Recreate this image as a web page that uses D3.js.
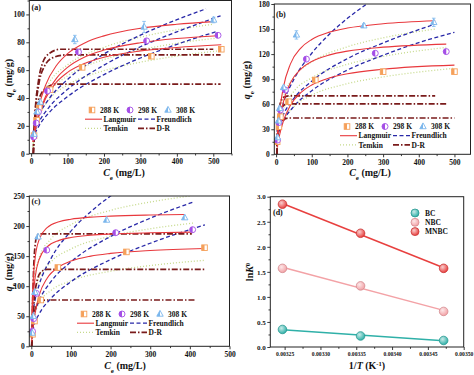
<!DOCTYPE html>
<html>
<head>
<meta charset="utf-8">
<script src="https://cdn.jsdelivr.net/npm/d3@7"></script>
<style>
  body { margin: 0; background: #fff; }
  svg { display: block; }
  text { font-family: "Liberation Serif", "Times New Roman", serif; font-weight: bold; fill: #111; }
</style>
</head>
<body>
<div id="chart"></div>
<script>
// ---- shared labels ----
const temps = ["288 K", "298 K", "308 K"];
const models = ["Langmuir", "Freundlich", "Temkin", "D-R"];
const isoXTicks = [0, 100, 200, 300, 400, 500];
const aYTicks = [0, 20, 40, 60, 80, 100];
const bYTicks = [0, 30, 60, 90, 120, 150, 180];
const cYTicks = [0, 50, 100, 150, 200, 250];
const dXTicks = [0.00325, 0.0033, 0.00335, 0.0034, 0.00345, 0.0035];
const dYTicks = [0, 0.5, 1.0, 1.5, 2.0, 2.5, 3.0];

// ---- panel (a): [Ce, qe] per temperature 288 / 298 / 308 K ----
const aPoints = [
  [[8, 13], [15, 24], [22, 33], [52, 46], [140, 62], [330, 70], [522, 75]],
  [[7, 12], [14, 22], [20, 30], [45, 45], [130, 73], [317, 81], [513, 85]],
  [[8, 14], [16, 30], [25, 37], [120, 82], [310, 91], [501, 96]]
];
// error bar half-heights for the 308 K points
const aErr308 = [0, 0, 0, 3, 4, 2];
const aLangmuir = [
  [[5, 8.4], [10, 15.3], [20, 26], [40, 39.8], [70, 51.5], [100, 58.4], [150, 65.2], [200, 69.3], [300, 73.8], [400, 76.3], [522, 78.2]],
  [[5, 8.5], [10, 15.5], [20, 26.6], [40, 41.3], [70, 54.3], [100, 62], [150, 69.8], [200, 74.4], [300, 79.7], [400, 82.7], [513, 84.7]],
  [[5, 10.6], [10, 19.3], [20, 32.5], [40, 49.4], [70, 63.5], [100, 71.8], [150, 79.9], [200, 84.6], [300, 90], [400, 92.9], [501, 94.8]]
];
const aFreundlich = [
  [[5, 10.1], [10, 14], [20, 19.3], [50, 29.7], [100, 41], [200, 56.8], [300, 68.7], [400, 78.5], [510, 87.8]],
  [[5, 11.6], [10, 16], [20, 22], [50, 33.6], [100, 46.2], [200, 63.6], [300, 76.8], [400, 87.5], [520, 99]],
  [[5, 14.9], [10, 20], [20, 26.8], [50, 39.7], [100, 53.3], [200, 71.6], [300, 85.1], [400, 96.2], [480, 104]]
];
const aTemkin = [
  [[5, 4.7], [10, 15], [20, 25.3], [50, 39], [100, 49.3], [200, 59.6], [300, 65.7], [400, 70.1], [520, 74]],
  [[5, 5.3], [10, 17], [20, 28.7], [50, 44.2], [100, 55.9], [200, 67.6], [300, 74.5], [400, 79.3], [510, 83]],
  [[5, 9.4], [10, 22], [20, 34.6], [50, 51.2], [100, 63.8], [200, 76.4], [300, 83.7], [400, 89], [500, 93]]
];
const aDR = [
  [[6, 0], [10, 22], [20, 38], [40, 47], [70, 50], [520, 50]],
  [[6, 0], [10, 24], [20, 48], [35, 62], [60, 69], [100, 71], [520, 71]],
  [[6, 0], [10, 25], [20, 52], [30, 64], [50, 72], [80, 75], [500, 75]]
];

// ---- panel (b) ----
const bPoints = [
  [[3, 15], [8, 33], [12, 45], [35, 63], [110, 89], [300, 99], [500, 99]],
  [[4, 17], [8, 38], [12, 53], [26, 77], [85, 114], [278, 121], [477, 123]],
  [[4, 20], [7, 40], [10, 55], [21, 80], [57, 143], [246, 154], [442, 158]]
];
const bErr308 = [0, 0, 0, 0, 5, 2, 5];
const bLangmuir = [
  [[3, 8.1], [5, 13.2], [10, 23.7], [20, 39.3], [40, 58.6], [70, 74.2], [100, 83], [150, 91.5], [200, 96.5], [300, 101.9], [500, 106.8]],
  [[3, 14.9], [5, 23.2], [10, 39.7], [20, 61.8], [40, 85.5], [70, 102.4], [100, 111.2], [150, 119.1], [200, 123.6], [300, 128.3], [477, 132]],
  [[3, 20], [5, 30.9], [10, 52.1], [20, 79.6], [40, 108], [70, 127.5], [100, 137.5], [150, 146.3], [200, 151.2], [300, 156.4], [446, 160]]
];
const bFreundlich = [
  [[3, 18.4], [5, 22.6], [10, 30], [20, 39.7], [50, 57.5], [100, 76.1], [200, 100.9], [300, 118.6], [400, 133.8], [500, 146]],
  [[3, 22.6], [5, 27.5], [10, 36], [20, 47.1], [50, 67], [100, 87.6], [200, 114.6], [300, 133.4], [446, 156]],
  [[3, 26.9], [5, 33.5], [10, 45], [20, 60.6], [50, 89.9], [100, 121], [150, 144], [200, 162.8], [254, 180], [270, 185]]
];
const bTemkin = [
  [[3, 1], [5, 11.2], [10, 25], [20, 38.8], [50, 57], [100, 70.8], [200, 84.6], [300, 92.7], [400, 98.5], [500, 103]],
  [[3, 10], [5, 21.9], [10, 38], [20, 54.1], [50, 75.5], [100, 91.6], [200, 107.8], [300, 117.2], [477, 128]],
  [[3, 18.3], [5, 31.8], [10, 50], [20, 68.2], [50, 92.3], [100, 110.6], [200, 128.8], [300, 139.5], [446, 150]]
];
const bDR = [
  [[2, 0], [5, 22], [10, 35], [20, 41], [35, 43.5], [500, 43.5]],
  [[2, 0], [5, 30], [10, 50], [20, 58], [35, 60.5], [477, 60.5]],
  [[2, 0], [5, 35], [10, 58], [20, 68], [35, 70], [446, 70]]
];

// ---- panel (c) ----
const cPoints = [
  [[3, 20], [8, 42], [24, 77], [67, 131], [240, 157], [437, 164]],
  [[3, 25], [6, 46], [13, 88], [39, 160], [213, 189], [407, 194]],
  [[2, 22], [5, 50], [9, 90], [17, 182], [190, 210], [387, 214]]
];
const cErr308 = [0, 0, 0, 0, 0, 0];
const cLangmuir = [
  [[1, 8.1], [2, 15.5], [5, 34], [10, 56.7], [20, 85], [40, 113.3], [70, 132.2], [100, 141.7], [150, 150], [200, 154.5], [300, 159.4], [438, 162.6]],
  [[1, 25.2], [2, 44.5], [5, 82.7], [10, 115.8], [20, 144.8], [40, 165.4], [70, 176.2], [100, 181], [150, 184.8], [200, 186.8], [300, 188.8], [409, 189.9]],
  [[1, 37], [2, 63.4], [5, 111], [10, 148], [20, 177.6], [40, 197.3], [70, 207.2], [100, 211.4], [150, 214.8], [200, 216.6], [300, 218.4], [385, 219.2]]
];
const cFreundlich = [
  [[1, 15.1], [2, 20.3], [5, 30], [10, 40.3], [20, 54.1], [50, 79.9], [100, 107.4], [200, 144.2], [300, 171.4], [438, 202]],
  [[1, 24.4], [2, 31.8], [5, 45], [10, 58.5], [20, 76.2], [50, 107.9], [100, 140.3], [200, 182.7], [300, 213], [409, 240]],
  [[1, 32.2], [2, 42.1], [5, 60], [10, 78.5], [20, 102.6], [50, 146.3], [100, 191.6], [150, 223.9], [200, 250], [215, 257]]
];
const cTemkin = [
  [[1, 3], [2, 18.9], [5, 40], [10, 55.9], [20, 71.9], [50, 93], [100, 108.9], [200, 124.9], [300, 134.3], [438, 143]],
  [[1, 20.7], [2, 41.9], [5, 70], [10, 91.2], [20, 112.5], [50, 140.6], [100, 161.8], [200, 183.1], [300, 195.5], [409, 205]],
  [[1, 45], [2, 68.7], [5, 100], [10, 123.7], [20, 147.4], [50, 178.7], [100, 202.4], [200, 226.1], [300, 240], [400, 250]]
];
const cDR = [
  [[1, 0], [4, 30], [8, 55], [15, 70], [25, 76], [40, 77], [412, 77]],
  [[1, 0], [4, 40], [8, 80], [15, 110], [25, 124], [40, 128], [437, 128]],
  [[1, 0], [3, 60], [6, 130], [10, 170], [15, 185], [25, 187], [405, 187]]
];

// ---- panel (d): ln K0 vs 1/T ----
const dInvT = [0.003247, 0.003356, 0.003472];
const dSeriesNames = ["BC", "NBC", "MNBC"];
const dBC = [0.35, 0.22, 0.13];
const dNBC = [1.57, 1.22, 0.71];
const dMNBC = [2.85, 2.27, 1.57];

// ---- styles ----
const tempColors = ["#f5a05a", "#a44ee6", "#7ab6ec"];
const tempShapes = ["square", "circle", "triangle"];
const modelStyles = [
  {color: "#e8383d", width: 1.1, dash: null},
  {color: "#2828a8", width: 1.3, dash: "4,2.5"},
  {color: "#c6da8c", width: 1.3, dash: "1,2"},
  {color: "#7a1b1b", width: 1.7, dash: "6,2,1.5,2"}
];
const dColors = ["#2fb0a8", "#f3a2a6", "#e8403f"];

const svg = d3.select("#chart").append("svg")
    .attr("width", 474)
    .attr("height", 375);
const defs = svg.append("defs");

function marker(g, shape, cx, cy, color) {
  if (shape === "square") {
    const s = 5.6;
    g.append("rect").attr("x", cx - s / 2).attr("y", cy - s / 2).attr("width", s).attr("height", s)
        .attr("fill", "#fff").attr("stroke", color).attr("stroke-width", 0.9);
    g.append("rect").attr("x", cx - s / 2).attr("y", cy - s / 2).attr("width", s / 2).attr("height", s)
        .attr("fill", color);
  } else if (shape === "circle") {
    const r = 3;
    g.append("circle").attr("cx", cx).attr("cy", cy).attr("r", r)
        .attr("fill", "#fff").attr("stroke", color).attr("stroke-width", 0.9);
    g.append("path").attr("d", `M${cx},${cy - r}A${r},${r} 0 0 0 ${cx},${cy + r}Z`).attr("fill", color);
  } else {
    const w = 6.4, h = 5.8;
    g.append("path").attr("d", `M${cx},${cy - h * 0.62}L${cx - w / 2},${cy + h * 0.38}L${cx + w / 2},${cy + h * 0.38}Z`)
        .attr("fill", "#fff").attr("stroke", color).attr("stroke-width", 0.9);
    g.append("path").attr("d", `M${cx},${cy - h * 0.62}L${cx - w / 2},${cy + h * 0.38}L${cx},${cy + h * 0.38}Z`)
        .attr("fill", color);
  }
}

function midpoints(ticks, domain) {
  const out = [];
  const step = ticks[1] - ticks[0];
  for (let i = 0; i < ticks.length; i++) {
    const m = ticks[i] + step / 2;
    if (m <= domain[1]) out.push(m);
  }
  return out;
}

function drawAxes(g, x, y, box, xTicks, yTicks, xFmt, yFmt, xFont, yFont) {
  const xg = g.append("g").attr("transform", `translate(0,${box.bottom})`)
      .call(d3.axisBottom(x).tickValues(xTicks).tickSize(3).tickSizeOuter(0).tickPadding(2).tickFormat(xFmt));
  xg.selectAll("text").style("font-size", xFont + "px");
  g.append("g").attr("transform", `translate(0,${box.bottom})`)
      .call(d3.axisBottom(x).tickValues(midpoints(xTicks, x.domain())).tickSize(1.8).tickSizeOuter(0).tickFormat(""));
  const yg = g.append("g").attr("transform", `translate(${box.left},0)`)
      .call(d3.axisLeft(y).tickValues(yTicks).tickSize(3).tickSizeOuter(0).tickPadding(1.5).tickFormat(yFmt));
  yg.selectAll("text").style("font-size", yFont + "px");
  g.append("g").attr("transform", `translate(${box.left},0)`)
      .call(d3.axisLeft(y).tickValues(midpoints(yTicks, y.domain())).tickSize(1.8).tickSizeOuter(0).tickFormat(""));
  g.selectAll(".domain").remove();
  g.selectAll(".tick line").attr("stroke", "#222").attr("stroke-width", 0.9);
  g.append("rect")
      .attr("x", box.left).attr("y", box.top)
      .attr("width", box.right - box.left).attr("height", box.bottom - box.top)
      .attr("fill", "none").attr("stroke", "#222").attr("stroke-width", 1);
}

function titleParts(t, parts) {
  parts.forEach(p => {
    const s = t.append("tspan").text(p.t);
    if (p.i) s.style("font-style", "italic");
    if (p.sub) s.attr("baseline-shift", "sub").style("font-size", "7px");
    if (p.sup) s.attr("baseline-shift", "super").style("font-size", "6.5px");
  });
}

function yTitle(g, cx, cy, parts) {
  const t = g.append("text").attr("transform", `translate(${cx},${cy}) rotate(-90)`)
      .attr("text-anchor", "middle").style("font-size", "10px");
  titleParts(t, parts);
}

function xTitle(g, cx, cy, parts) {
  const t = g.append("text").attr("x", cx).attr("y", cy)
      .attr("text-anchor", "middle").style("font-size", "10px");
  titleParts(t, parts);
}

const qeTitle = [{t: "q", i: true}, {t: "e", sub: true}, {t: " (mg/g)"}];
const ceTitle = [{t: "C", i: true}, {t: "e", sub: true}, {t: " (mg/L)"}];

const isoPanels = [
  {id: "a", box: {left: 29.3, right: 231.5, top: 0.5, bottom: 153.7}, xDomain: [-5, 550], yDomain: [0, 110],
   yTicks: aYTicks, points: aPoints, err: aErr308, curves: [aLangmuir, aFreundlich, aTemkin, aDR],
   legend: {x: 92, y: 110}, yt: {x: 11.5, y: 78}, xt: {x: 124, y: 175.5}, lab: {x: 31.5, y: 9.5}},
  {id: "b", box: {left: 274.3, right: 470.5, top: 4, bottom: 154.3}, xDomain: [-5, 545], yDomain: [0, 180],
   yTicks: bYTicks, points: bPoints, err: bErr308, curves: [bLangmuir, bFreundlich, bTemkin, bDR],
   legend: {x: 347, y: 126.5}, yt: {x: 249.5, y: 80}, xt: {x: 370, y: 175.5}, lab: {x: 276, y: 16.5}},
  {id: "c", box: {left: 29.3, right: 229.5, top: 196, bottom: 346.3}, xDomain: [-5, 500], yDomain: [0, 250],
   yTicks: cYTicks, points: cPoints, err: cErr308, curves: [cLangmuir, cFreundlich, cTemkin, cDR],
   legend: {x: 84, y: 314}, yt: {x: 11.5, y: 272}, xt: {x: 125, y: 369}, lab: {x: 31.5, y: 203.5}}
];

isoPanels.forEach(p => {
  const g = svg.append("g").attr("id", "panel_" + p.id);
  const b = p.box;
  const x = d3.scaleLinear().domain(p.xDomain).range([b.left, b.right]);
  const y = d3.scaleLinear().domain(p.yDomain).range([b.bottom, b.top]);

  defs.append("clipPath").attr("id", "clip_" + p.id).append("rect")
      .attr("x", b.left).attr("y", b.top).attr("width", b.right - b.left).attr("height", b.bottom - b.top);

  const plot = g.append("g").attr("clip-path", `url(#clip_${p.id})`);
  const line = d3.line().x(d => x(d[0])).y(d => y(d[1])).curve(d3.curveMonotoneX);

  // model order: Temkin, Freundlich, D-R, Langmuir on top
  [2, 1, 3, 0].forEach(m => {
    p.curves[m].forEach(curve => {
      plot.append("path").datum(curve).attr("d", line)
          .attr("fill", "none")
          .attr("stroke", modelStyles[m].color)
          .attr("stroke-width", modelStyles[m].width)
          .attr("stroke-dasharray", modelStyles[m].dash);
    });
  });

  // error bars on the 308 K points
  p.points[2].forEach((d, k) => {
    const e = p.err[k];
    if (!e) return;
    const cx = x(d[0]);
    plot.append("path")
        .attr("d", `M${cx - 1.8},${y(d[1] + e)}H${cx + 1.8}M${cx},${y(d[1] + e)}V${y(d[1] - e)}M${cx - 1.8},${y(d[1] - e)}H${cx + 1.8}`)
        .attr("stroke", tempColors[2]).attr("stroke-width", 0.8).attr("fill", "none");
  });

  p.points.forEach((series, ti) => {
    series.forEach(d => marker(plot, tempShapes[ti], x(d[0]), y(d[1]), tempColors[ti]));
  });

  drawAxes(g, x, y, b, isoXTicks, p.yTicks, d3.format("d"), d3.format("d"), 7.5, 7.5);

  g.append("text").attr("x", p.lab.x).attr("y", p.lab.y).style("font-size", "8px").text(`(${p.id})`);
  yTitle(g, p.yt.x, p.yt.y, qeTitle);
  xTitle(g, p.xt.x, p.xt.y, ceTitle);

  // legend
  const lg = g.append("g");
  const L = p.legend, rowH = 9.2, colW = 38;
  temps.forEach((t, i) => {
    marker(lg, tempShapes[i], L.x + i * colW, L.y, tempColors[i]);
    lg.append("text").attr("x", L.x + i * colW + 8).attr("y", L.y + 2.6).style("font-size", "7.5px").text(t);
  });
  models.forEach((m, i) => {
    const row = Math.floor(i / 2), col = i % 2;
    const yy = L.y + (row + 1) * rowH;
    const x0 = L.x - 7 + col * 53;
    lg.append("line").attr("x1", x0).attr("x2", x0 + 17).attr("y1", yy).attr("y2", yy)
        .attr("stroke", modelStyles[i].color)
        .attr("stroke-width", modelStyles[i].width)
        .attr("stroke-dasharray", modelStyles[i].dash);
    lg.append("text").attr("x", x0 + 18.5).attr("y", yy + 2.6).style("font-size", "7.5px").text(m);
  });
});

// ---- panel (d) ----
(function () {
  const g = svg.append("g").attr("id", "panel_d");
  const b = {left: 270.3, right: 463.7, top: 196.7, bottom: 347};
  const x = d3.scaleLinear().domain([0.00323, 0.0035]).range([b.left, b.right]);
  const y = d3.scaleLinear().domain([0, 3]).range([b.bottom, b.top]);
  const series = [dBC, dNBC, dMNBC];

  series.forEach((s, i) => {
    const grad = defs.append("radialGradient").attr("id", "ball" + i)
        .attr("cx", "38%").attr("cy", "35%").attr("r", "65%");
    grad.append("stop").attr("offset", "0%").attr("stop-color", d3.interpolateRgb(dColors[i], "#fff")(0.75));
    grad.append("stop").attr("offset", "100%").attr("stop-color", dColors[i]);
  });

  series.forEach((s, i) => {
    // least-squares line through the three points
    const mx = d3.mean(dInvT), my = d3.mean(s);
    const slope = d3.sum(dInvT, (v, k) => (v - mx) * (s[k] - my)) / d3.sum(dInvT, v => (v - mx) * (v - mx));
    const icpt = my - slope * mx;
    const ends = d3.extent(dInvT);
    g.append("line")
        .attr("x1", x(ends[0])).attr("y1", y(icpt + slope * ends[0]))
        .attr("x2", x(ends[1])).attr("y2", y(icpt + slope * ends[1]))
        .attr("stroke", dColors[i]).attr("stroke-width", 1.5);
  });

  series.forEach((s, i) => {
    g.selectAll(null).data(s).enter().append("circle")
        .attr("cx", (d, k) => x(dInvT[k]))
        .attr("cy", d => y(d))
        .attr("r", 4.3)
        .attr("fill", `url(#ball${i})`)
        .attr("stroke", d3.color(dColors[i]).darker(0.4))
        .attr("stroke-width", 0.8);
  });

  drawAxes(g, x, y, b, dXTicks, dYTicks, d3.format(".5f"), d3.format(".1f"), 5.6, 7);

  g.append("text").attr("x", 273).attr("y", 214.5).style("font-size", "8px").text("(d)");
  yTitle(g, 252.5, 272, [{t: "ln"}, {t: "K", i: true}, {t: "0", sup: true}]);
  xTitle(g, 367, 369, [{t: "1/"}, {t: "T", i: true}, {t: " (K"}, {t: "-1", sup: true}, {t: ")"}]);

  dSeriesNames.forEach((n, i) => {
    const yy = 213 + i * 9.3;
    g.append("circle").attr("cx", 415).attr("cy", yy).attr("r", 4)
        .attr("fill", `url(#ball${i})`)
        .attr("stroke", d3.color(dColors[i]).darker(0.4)).attr("stroke-width", 0.8);
    g.append("text").attr("x", 425).attr("y", yy + 2.7).style("font-size", "7.5px").text(n);
  });
})();
</script>
</body>
</html>
